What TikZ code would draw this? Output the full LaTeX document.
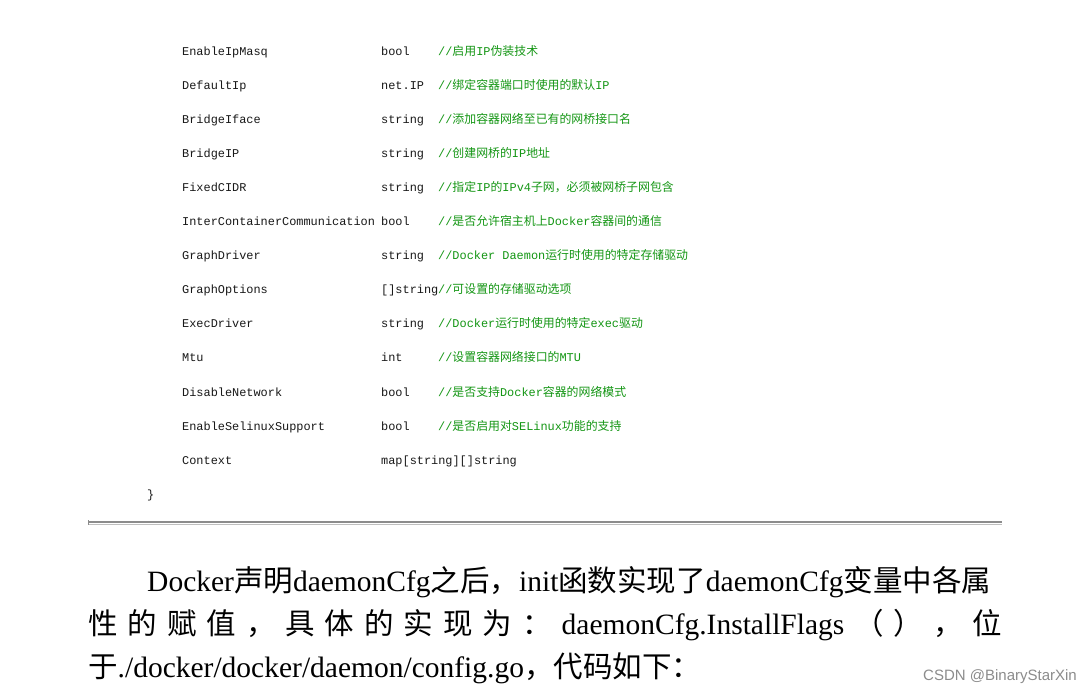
\documentclass[tikz,border=0pt]{standalone}
\usepackage{fontspec}
\setmainfont{Liberation Serif}
\setmonofont{Liberation Mono}
\newfontfamily\cjk{Noto Sans CJK SC}
\newfontfamily\wm{Liberation Sans}
\newcommand\zh[1]{{\cjk #1}}
\definecolor{cmt}{RGB}{20,150,20}
\begin{document}
\begin{tikzpicture}[x=1pt,y=-1pt,
  code/.style={anchor=base west,inner sep=0pt,font=\ttfamily\fontsize{11.9}{12}\selectfont,text=black!90},
  com/.style={code,text=cmt},
  para/.style={anchor=base west,inner sep=0pt,font=\fontsize{29.5}{32}\selectfont}]
\useasboundingbox[fill=white] (0,0) rectangle (1091,696);
\foreach \n/\t/\c [count=\i] in {
 EnableIpMasq/bool/{//\zh{启用}IP\zh{伪装技术}},
 DefaultIp/net.IP/{//\zh{绑定容器端口时使用的默认}IP},
 BridgeIface/string/{//\zh{添加容器网络至已有的网桥接口名}},
 BridgeIP/string/{//\zh{创建网桥的}IP\zh{地址}},
 FixedCIDR/string/{//\zh{指定}IP\zh{的}IPv4\zh{子网，必须被网桥子网包含}},
 InterContainerCommunication/bool/{//\zh{是否允许宿主机上}Docker\zh{容器间的通信}},
 GraphDriver/string/{//Docker Daemon\zh{运行时使用的特定存储驱动}},
 GraphOptions/{[]string}/{//\zh{可设置的存储驱动选项}},
 ExecDriver/string/{//Docker\zh{运行时使用的特定}exec\zh{驱动}},
 Mtu/int/{//\zh{设置容器网络接口的}MTU},
 DisableNetwork/bool/{//\zh{是否支持}Docker\zh{容器的网络模式}},
 EnableSelinuxSupport/bool/{//\zh{是否启用对}SELinux\zh{功能的支持}},
 Context/{map[string][]string}/{}}
{
  \node[code] (n\i) at (182,{55+34.1*(\i-1)}) {\n};
  \node[code] (t\i) at (381,{55+34.1*(\i-1)}) {\t};
  \node[com] (c\i) at (438,{55+34.1*(\i-1)}) {\c};
}
\node[code] (br) at (147,498) {\}};
\draw[line width=1.2pt,black!45] (88,522) -- (1002,522);
\draw[line width=0.6pt,black!25] (88,524.3) -- (1002,524.3);
\draw[line width=0.8pt,black!45] (88,520) -- (88,525);
\node[para] (p1) at (147,591) {Docker\zh{声明}daemonCfg\zh{之后，}init\zh{函数实现了}daemonCfg\zh{变量中各属}};
\node[para] (p2) at (88,634) {\makebox[914pt][s]{\zh{性}\hfill\zh{的}\hfill\zh{赋}\hfill\zh{值}\hfill\zh{，}\hfill\zh{具}\hfill\zh{体}\hfill\zh{的}\hfill\zh{实}\hfill\zh{现}\hfill\zh{为}\hfill\zh{：}\hfill daemonCfg.InstallFlags\hfill\zh{（}\hfill\zh{）}\hfill\zh{，}\hfill\zh{位}}};
\node[para] (p3) at (88,677) {\zh{于}./docker/docker/daemon/config.go\zh{，代码如下：}};
\node[anchor=east,inner sep=0pt,text=black!45,font=\wm\fontsize{15}{16}\selectfont] (wm) at (1077,677) {CSDN @BinaryStarXin};
\end{tikzpicture}
\end{document}
